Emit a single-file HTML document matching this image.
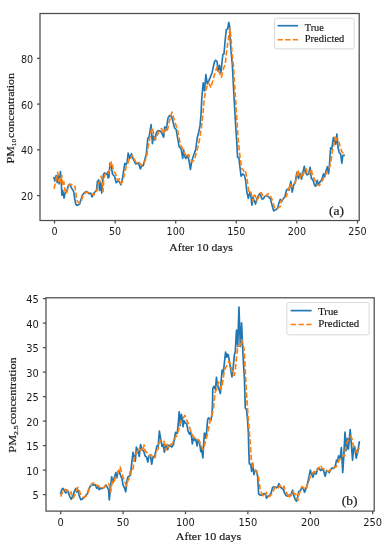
<!DOCTYPE html>
<html><head><meta charset="utf-8"><title>PM concentration: True vs Predicted</title>
<style>
html,body{margin:0;padding:0;background:#fff;}
svg{display:block}
.tk{font-family:"DejaVu Sans","Liberation Sans",sans-serif;fill:#1a1a1a}
.lb{font-family:"Liberation Serif","DejaVu Serif",serif;fill:#1a1a1a;stroke:#1a1a1a;stroke-width:0.18px}
.ab{font-family:"Liberation Serif","DejaVu Serif",serif;fill:#1a1a1a;stroke:#1a1a1a;stroke-width:0.2px}
</style></head><body>
<svg width="386" height="550" viewBox="0 0 386 550">
<rect width="386" height="550" fill="#fff"/>
<g id="top">
<path d="M53.92,177.67 L54.90,180.94 L56.13,175.63 L57.19,182.57 L58.17,175.63 L59.16,183.80 L60.46,171.54 L61.44,185.44 L61.85,195.25 L62.67,190.34 L64.06,198.11 L65.12,192.79 L66.35,191.98 L68.39,185.44 L69.62,184.21 L71.25,187.48 L73.71,191.57 L74.52,197.70 L75.75,204.24 L76.98,205.46 L79.63,203.95 L80.72,200.14 L82.36,195.23 L84.54,192.51 L86.72,191.42 L88.90,193.60 L90.53,193.05 L92.17,196.87 L94.35,192.51 L96.53,190.33 L97.40,181.61 L98.71,179.97 L99.58,190.33 L100.34,182.70 L101.76,193.05 L102.52,181.61 L103.61,173.98 L104.70,172.89 L106.56,174.52 L107.97,171.80 L108.00,177.89 L108.98,177.07 L110.04,163.17 L111.27,165.63 L112.50,174.21 L114.54,176.25 L116.17,182.79 L118.22,180.75 L119.44,181.98 L120.92,184.84 L122.31,179.52 L123.53,171.35 L124.76,163.58 L125.98,164.81 L127.21,161.54 L128.17,153.15 L129.80,158.60 L131.44,153.69 L133.07,158.60 L135.80,164.05 L138.52,162.96 L140.38,168.95 L141.79,165.14 L143.21,165.68 L145.06,158.60 L146.15,155.33 L147.24,144.43 L147.79,138.43 L149.10,136.80 L150.51,128.08 L151.09,124.62 L152.40,143.69 L153.49,136.06 L154.90,139.88 L156.54,132.25 L158.17,130.61 L160.35,131.16 L161.99,133.34 L163.62,137.15 L164.71,126.80 L165.80,130.61 L166.89,125.71 L167.98,118.08 L169.62,115.35 L171.80,116.99 L173.43,123.53 L174.52,127.89 L176.16,129.52 L177.79,138.79 L179.21,146.96 L181.06,148.60 L182.70,158.41 L183.63,149.88 L184.72,156.42 L185.81,158.60 L187.45,155.33 L189.08,160.78 L190.39,169.50 L191.81,160.78 L193.99,154.24 L195.62,149.88 L197.26,137.89 L198.89,131.35 L199.98,125.90 L201.00,115.00 L201.81,97.51 L203.23,82.79 L204.54,90.97 L205.85,74.62 L207.26,83.88 L208.90,80.61 L212.17,72.44 L214.35,62.08 L215.66,60.23 L217.07,61.54 L218.16,71.35 L219.47,65.35 L220.89,72.98 L221.99,62.14 L222.86,54.51 L223.95,53.96 L225.26,39.25 L226.35,29.44 L227.66,28.89 L228.75,22.35 L229.62,26.17 L230.16,39.25 L231.25,53.42 L232.35,65.00 L233.44,86.80 L235.62,124.95 L236.72,141.35 L237.59,157.15 L238.90,157.70 L239.99,167.51 L241.08,176.23 L242.71,174.05 L244.35,175.14 L245.70,180.73 L246.74,191.09 L248.29,198.34 L249.84,192.12 L250.88,196.27 L251.92,205.08 L252.95,197.31 L253.99,200.41 L255.54,204.04 L257.10,198.34 L258.65,195.23 L260.21,193.16 L261.76,198.86 L263.32,198.86 L264.87,196.27 L266.42,195.75 L267.98,196.27 L269.53,197.82 L270.57,199.38 L272.12,205.60 L273.68,210.78 L275.63,209.74 L277.70,208.19 L278.74,203.52 L280.29,199.38 L281.84,201.45 L283.40,198.34 L284.95,196.79 L286.51,190.05 L288.06,189.02 L289.10,190.05 L290.86,181.24 L292.21,192.12 L293.76,184.87 L295.32,181.76 L296.87,172.44 L298.42,178.65 L299.98,173.47 L301.53,179.17 L303.09,171.40 L304.33,166.22 L305.18,171.40 L306.96,174.95 L308.73,173.76 L310.15,167.26 L311.33,178.49 L312.87,179.68 L314.65,185.59 L315.83,186.18 L317.25,180.27 L318.19,184.41 L319.97,182.04 L321.74,179.68 L323.52,173.76 L324.70,176.72 L325.88,171.40 L327.42,166.67 L328.60,173.76 L329.43,165.48 L330.61,147.74 L331.80,148.92 L333.33,137.69 L334.52,141.83 L335.70,144.19 L336.88,134.14 L338.06,147.74 L339.25,152.47 L340.67,154.25 L341.85,163.12 L342.80,155.43 L344.22,155.43" fill="none" stroke="#1f77b4" stroke-width="1.65" stroke-linejoin="round" stroke-linecap="square"/>
<path d="M54.09,188.71 L55.31,182.98 L56.13,178.90 L57.77,172.36 L58.58,181.35 L59.65,177.26 L60.46,182.17 L61.85,175.63 L62.67,185.44 L63.90,181.76 L64.71,189.52 L65.94,194.02 L67.17,191.16 L68.39,186.25 L69.62,184.62 L71.66,184.21 L73.30,186.66 L74.93,186.25 L75.75,191.98 L76.57,199.33 L77.79,201.78 L79.63,203.41 L81.27,201.23 L82.90,195.78 L85.08,193.05 L87.26,191.96 L89.44,193.60 L91.62,193.60 L93.80,195.23 L95.44,191.96 L97.07,190.33 L98.16,183.79 L99.80,181.61 L100.89,177.25 L101.43,176.16 L102.20,182.70 L103.07,191.42 L103.61,181.61 L104.70,175.07 L106.88,172.34 L108.52,173.43 L109.63,168.90 L111.43,161.95 L112.50,165.63 L113.72,171.35 L115.77,174.21 L116.99,178.71 L118.22,180.34 L119.44,178.71 L121.08,183.61 L122.71,181.16 L123.94,176.25 L125.17,170.53 L126.39,166.44 L127.62,163.99 L129.25,158.27 L130.48,159.09 L131.98,155.33 L133.62,158.05 L136.34,162.96 L139.07,162.41 L141.25,165.14 L143.43,164.59 L145.06,160.78 L146.70,156.42 L148.01,147.70 L149.10,141.16 L150.51,134.62 L151.09,131.16 L152.40,127.89 L153.81,134.43 L155.45,139.88 L157.08,135.52 L159.26,131.16 L161.44,128.43 L163.62,133.88 L165.26,130.07 L166.35,127.89 L167.44,130.07 L169.07,122.44 L170.71,116.99 L171.80,112.08 L173.43,116.99 L175.07,122.44 L177.25,128.98 L178.88,136.61 L180.52,145.33 L182.15,147.51 L183.79,151.87 L185.42,154.59 L187.60,157.32 L188.69,154.59 L190.17,158.60 L192.35,161.87 L194.53,159.69 L196.17,153.15 L198.35,145.52 L199.98,136.80 L201.62,125.90 L202.90,114.95 L203.99,100.78 L205.63,90.97 L207.26,85.52 L208.90,83.34 L210.86,87.70 L213.26,78.98 L215.44,71.35 L217.07,66.99 L219.25,72.44 L221.43,77.34 L223.61,68.08 L225.26,64.32 L226.35,53.42 L227.98,41.43 L229.07,33.80 L229.95,28.35 L230.93,37.07 L231.80,50.15 L232.89,61.05 L233.44,65.00 L235.08,92.25 L237.26,124.95 L238.35,141.35 L239.99,156.61 L241.62,168.60 L243.26,169.69 L244.35,172.96 L245.66,171.87 L246.74,177.62 L247.77,184.87 L248.81,191.09 L249.84,193.16 L250.88,192.12 L251.92,196.27 L252.95,201.45 L253.47,196.27 L255.03,195.23 L256.58,200.41 L258.13,198.34 L259.69,194.20 L261.24,192.64 L262.80,195.75 L264.87,196.79 L266.42,195.23 L268.50,193.68 L270.05,195.75 L271.61,198.34 L273.16,203.52 L274.72,207.67 L276.66,209.22 L278.74,207.67 L280.29,206.63 L281.33,200.41 L282.88,199.38 L284.95,197.31 L286.51,196.27 L287.54,191.09 L289.10,187.98 L290.13,183.83 L291.69,186.94 L293.24,184.87 L295.32,182.80 L296.87,175.54 L297.91,169.84 L299.15,175.54 L300.50,177.62 L302.05,172.44 L303.09,175.54 L304.64,169.33 L306.20,168.81 L307.55,173.76 L309.32,174.35 L311.33,169.03 L312.52,176.13 L314.05,178.49 L315.83,182.04 L317.60,185.00 L319.38,185.59 L321.15,182.04 L322.92,179.68 L324.70,174.95 L326.47,173.76 L328.25,169.03 L329.78,166.67 L331.20,159.57 L332.39,151.29 L333.81,145.38 L334.99,137.10 L335.94,141.83 L337.35,137.69 L338.54,140.65 L340.08,146.56 L341.61,151.29 L343.03,153.06 L344.45,156.02" fill="none" stroke="#ff7f0e" stroke-width="1.65" stroke-linejoin="round" stroke-dasharray="5.30,2.30"/>
<rect x="40.0" y="13.5" width="319.20" height="207.00" fill="none" stroke="#4d4d4d" stroke-width="1.25"/>
<line x1="54.5" y1="220.5" x2="54.5" y2="223.50" stroke="#4d4d4d" stroke-width="1.25"/>
<text x="54.5" y="235.2" text-anchor="middle" class="tk" font-size="9.60">0</text>
<line x1="115.1" y1="220.5" x2="115.1" y2="223.50" stroke="#4d4d4d" stroke-width="1.25"/>
<text x="115.1" y="235.2" text-anchor="middle" class="tk" font-size="9.60">50</text>
<line x1="175.7" y1="220.5" x2="175.7" y2="223.50" stroke="#4d4d4d" stroke-width="1.25"/>
<text x="175.7" y="235.2" text-anchor="middle" class="tk" font-size="9.60">100</text>
<line x1="236.3" y1="220.5" x2="236.3" y2="223.50" stroke="#4d4d4d" stroke-width="1.25"/>
<text x="236.3" y="235.2" text-anchor="middle" class="tk" font-size="9.60">150</text>
<line x1="296.9" y1="220.5" x2="296.9" y2="223.50" stroke="#4d4d4d" stroke-width="1.25"/>
<text x="296.9" y="235.2" text-anchor="middle" class="tk" font-size="9.60">200</text>
<line x1="357.5" y1="220.5" x2="357.5" y2="223.50" stroke="#4d4d4d" stroke-width="1.25"/>
<text x="357.5" y="235.2" text-anchor="middle" class="tk" font-size="9.60">250</text>
<line x1="37.00" y1="195.6" x2="40.0" y2="195.6" stroke="#4d4d4d" stroke-width="1.25"/>
<text x="33.2" y="200.00" text-anchor="end" class="tk" font-size="9.60">20</text>
<line x1="37.00" y1="149.86" x2="40.0" y2="149.86" stroke="#4d4d4d" stroke-width="1.25"/>
<text x="33.2" y="154.26" text-anchor="end" class="tk" font-size="9.60">40</text>
<line x1="37.00" y1="104.12" x2="40.0" y2="104.12" stroke="#4d4d4d" stroke-width="1.25"/>
<text x="33.2" y="108.52" text-anchor="end" class="tk" font-size="9.60">60</text>
<line x1="37.00" y1="58.38" x2="40.0" y2="58.38" stroke="#4d4d4d" stroke-width="1.25"/>
<text x="33.2" y="62.78" text-anchor="end" class="tk" font-size="9.60">80</text>
<text x="201.1" y="250.5" text-anchor="middle" class="lb" font-size="10.90" textLength="63.5" lengthAdjust="spacingAndGlyphs">After 10 days</text>
<text transform="translate(13.6,118.2) rotate(-90)" text-anchor="middle" class="lb" font-size="10.90" textLength="90.5" lengthAdjust="spacingAndGlyphs">PM<tspan font-size="6.76" dy="2.40">10</tspan><tspan dy="-2.40" dx="0.8">concentration</tspan></text>
<rect x="274.6" y="18.2" width="79.60" height="30.70" rx="2" ry="2" fill="#fff" fill-opacity="0.8" stroke="#d8d8d8" stroke-width="1"/>
<line x1="277.6" y1="25.7" x2="298.1" y2="25.7" stroke="#1f77b4" stroke-width="1.65"/>
<line x1="277.6" y1="39.7" x2="298.1" y2="39.7" stroke="#ff7f0e" stroke-width="1.65" stroke-dasharray="5.30,2.30"/>
<text x="304.8" y="30.7" class="lb" font-size="10.40" textLength="19" lengthAdjust="spacingAndGlyphs">True</text>
<text x="304.8" y="42.3" class="lb" font-size="10.40" textLength="39.5" lengthAdjust="spacingAndGlyphs">Predicted</text>
<text x="329.0" y="215.3" class="ab" font-size="13.50">(a)</text>
</g>
<g id="bottom">
<path d="M60.66,493.50 L61.70,489.87 L63.05,488.32 L64.81,491.42 L65.84,492.98 L66.88,489.87 L68.44,492.98 L69.99,497.12 L71.34,499.20 L73.10,495.05 L74.65,490.91 L75.90,488.32 L76.73,491.94 L77.76,489.87 L79.32,496.09 L80.87,499.72 L82.94,498.68 L85.02,496.61 L87.09,494.02 L88.64,489.87 L90.20,486.24 L91.75,484.69 L93.55,485.05 L95.11,484.53 L96.66,488.16 L97.70,487.12 L99.25,489.72 L100.81,488.16 L102.36,488.68 L104.44,487.12 L105.99,485.05 L107.54,487.64 L108.58,489.72 L109.31,499.87 L110.65,486.09 L111.69,476.76 L112.73,482.98 L114.28,477.80 L115.83,472.62 L116.87,477.80 L117.91,471.58 L119.15,471.06 L120.50,475.21 L122.05,478.83 L123.09,485.05 L124.64,488.16 L125.68,491.79 L126.72,482.98 L127.75,477.28 L129.31,476.24 L130.55,474.69 L131.70,463.16 L133.05,452.28 L134.29,456.94 L135.33,461.09 L136.36,447.10 L137.92,450.73 L139.26,456.42 L140.51,444.51 L142.06,449.69 L143.62,450.73 L145.17,455.91 L146.73,457.46 L147.76,462.12 L149.01,455.91 L150.35,454.87 L151.70,464.20 L152.94,456.94 L154.50,456.42 L155.53,452.80 L156.88,446.06 L158.12,446.58 L159.37,431.04 L161.04,441.27 L162.07,446.45 L163.11,444.38 L164.35,452.15 L165.70,445.41 L166.74,446.45 L167.77,449.56 L168.81,445.41 L170.36,445.93 L171.92,446.97 L173.47,444.38 L174.51,438.16 L175.54,432.46 L177.10,433.50 L178.13,425.73 L179.17,411.74 L180.21,425.73 L181.24,414.33 L182.28,418.47 L183.01,426.76 L184.04,420.54 L185.39,423.13 L186.74,423.65 L187.98,430.91 L189.53,434.02 L190.57,431.94 L191.61,437.12 L192.33,443.86 L193.37,438.16 L194.72,440.23 L195.75,439.20 L197.10,445.93 L198.13,440.23 L199.25,440.75 L200.81,451.63 L201.53,448.52 L202.88,457.85 L203.61,444.38 L204.44,432.98 L205.68,438.16 L206.72,430.91 L207.54,420.54 L208.37,417.95 L209.62,418.47 L210.86,420.54 L211.90,415.36 L212.50,405.00 L212.81,388.34 L213.84,386.27 L215.40,389.38 L216.44,377.46 L217.47,385.23 L219.03,389.38 L220.37,393.52 L221.10,381.09 L222.13,370.21 L223.17,373.83 L224.21,364.51 L225.55,352.07 L226.59,357.25 L227.32,354.15 L228.35,355.18 L229.39,361.40 L230.74,369.69 L231.98,376.94 L233.29,366.45 L234.33,355.05 L235.36,350.91 L236.19,335.36 L236.61,330.18 L237.75,346.50 L238.95,307.20 L240.35,346.50 L241.60,322.90 L242.10,335.36 L242.82,350.91 L243.65,366.45 L244.48,380.03 L245.26,408.05 L246.51,409.61 L247.54,419.45 L248.37,433.03 L248.81,450.73 L249.33,463.68 L250.88,464.72 L251.61,471.45 L252.64,463.16 L253.99,474.56 L255.03,470.41 L256.58,470.93 L257.63,476.40 L258.66,494.02 L260.22,495.05 L262.29,495.05 L264.36,493.50 L265.40,494.02 L266.64,498.16 L267.99,496.09 L269.54,495.57 L271.10,492.98 L272.65,487.28 L274.73,486.76 L276.28,487.80 L277.83,486.76 L278.87,483.65 L280.42,487.28 L281.98,488.32 L283.53,489.87 L284.57,492.98 L286.12,495.57 L287.68,496.09 L289.23,495.05 L290.79,495.57 L291.11,494.38 L292.66,490.23 L293.70,495.41 L295.25,499.56 L296.50,501.11 L297.84,496.45 L298.88,491.27 L300.44,490.75 L301.99,487.12 L303.54,489.20 L304.58,492.31 L306.13,488.16 L307.69,482.98 L309.24,475.73 L310.28,470.03 L311.32,473.65 L312.87,477.28 L313.91,473.65 L315.15,472.10 L316.19,474.17 L317.53,468.47 L319.09,467.95 L320.64,470.54 L322.20,468.99 L323.75,471.06 L325.11,476.19 L326.66,470.49 L328.22,471.52 L329.25,472.56 L330.81,469.45 L332.36,467.90 L333.92,468.41 L335.47,465.31 L336.51,460.12 L337.54,461.16 L338.58,455.98 L340.13,458.05 L341.38,447.69 L342.73,472.56 L343.76,457.02 L345.01,432.15 L346.35,450.28 L347.39,438.36 L348.42,449.24 L349.46,437.33 L350.19,429.55 L351.53,446.65 L352.57,460.12 L353.61,447.69 L354.64,446.65 L356.20,458.05 L357.75,451.83 L359.31,441.99" fill="none" stroke="#1f77b4" stroke-width="1.70" stroke-linejoin="round" stroke-linecap="square"/>
<path d="M60.66,496.61 L62.22,492.98 L63.77,489.87 L65.33,489.35 L66.36,490.91 L67.92,490.39 L69.47,492.98 L71.03,491.94 L71.54,496.09 L73.10,498.16 L74.65,495.57 L76.21,490.91 L77.97,487.28 L79.32,490.91 L80.87,495.05 L82.42,497.12 L83.98,497.64 L86.05,496.09 L87.61,494.53 L89.16,488.83 L90.72,486.76 L92.00,483.50 L93.55,482.98 L95.11,483.50 L96.66,485.05 L98.22,485.57 L99.77,487.12 L101.84,488.68 L103.92,487.64 L105.47,485.57 L107.03,484.53 L108.58,483.50 L109.62,486.09 L110.65,492.31 L111.48,486.09 L112.73,479.87 L114.28,480.91 L115.32,477.28 L116.87,475.73 L118.42,471.58 L120.19,466.92 L121.53,472.62 L123.09,477.28 L124.64,480.91 L125.68,484.02 L126.72,486.09 L127.75,480.91 L129.31,478.32 L130.15,471.45 L131.70,471.45 L133.25,468.34 L134.08,459.02 L135.33,454.35 L136.88,453.32 L138.44,448.13 L139.99,450.21 L141.54,449.17 L142.58,450.73 L144.13,445.03 L145.17,451.24 L146.73,452.28 L148.28,454.87 L149.83,456.42 L151.39,454.87 L152.94,457.98 L155.02,457.46 L156.57,450.73 L158.12,448.65 L159.16,442.44 L160.72,440.36 L162.79,439.84 L164.35,442.31 L165.70,450.60 L167.05,444.38 L168.29,447.49 L169.33,444.38 L170.88,444.90 L172.44,443.34 L173.99,441.27 L175.54,437.12 L177.10,435.05 L178.65,429.87 L180.21,422.62 L181.76,419.51 L183.32,417.95 L184.87,415.36 L186.42,419.51 L187.98,422.62 L189.53,427.28 L191.09,431.94 L192.64,435.57 L194.20,437.64 L195.75,438.16 L197.31,438.68 L198.74,440.23 L200.29,443.34 L201.84,447.49 L203.40,449.56 L204.44,445.41 L205.99,439.20 L207.54,434.02 L209.10,425.73 L210.45,419.51 L211.69,415.36 L212.73,412.25 L213.84,405.03 L214.36,398.70 L215.40,391.45 L216.95,388.34 L218.51,382.12 L220.06,386.27 L221.10,389.38 L222.13,385.23 L223.17,379.02 L224.21,370.73 L225.76,367.62 L227.32,364.51 L228.87,361.40 L230.42,363.47 L231.46,369.69 L233.02,374.87 L234.26,375.39 L235.36,368.52 L236.61,356.09 L237.95,345.73 L239.51,346.24 L240.54,344.17 L241.58,339.51 L242.62,344.69 L243.86,347.28 L244.48,356.09 L245.21,368.52 L245.73,380.03 L246.51,393.54 L247.54,409.09 L248.58,421.52 L249.41,433.03 L250.36,445.54 L251.40,461.09 L252.44,465.23 L253.47,468.34 L255.03,470.41 L256.58,471.45 L258.15,475.36 L259.18,481.58 L260.22,489.87 L261.77,493.50 L263.33,496.09 L264.88,496.61 L266.44,492.46 L267.47,496.09 L269.03,496.61 L270.58,495.57 L272.13,493.50 L273.69,489.87 L275.24,486.76 L276.80,487.28 L278.35,487.80 L279.91,485.21 L281.46,487.28 L283.02,487.80 L284.05,486.24 L285.09,490.39 L286.64,492.98 L288.20,496.09 L289.23,498.16 L289.55,495.93 L291.11,495.41 L292.66,491.27 L294.22,493.34 L295.77,494.38 L297.84,500.60 L298.88,494.38 L300.44,490.23 L301.99,486.61 L304.06,488.16 L306.13,489.20 L307.69,484.02 L309.24,479.87 L310.80,474.69 L312.87,472.62 L314.42,471.58 L315.98,473.13 L317.53,470.03 L319.09,467.44 L320.64,465.36 L322.20,468.47 L323.75,468.99 L325.11,468.93 L326.66,470.49 L328.22,471.52 L330.29,469.97 L332.36,468.41 L334.44,467.38 L335.99,466.86 L337.54,464.27 L339.10,460.12 L340.65,458.05 L342.21,457.02 L343.76,454.94 L344.80,455.98 L345.83,446.65 L347.39,441.47 L348.94,439.40 L350.50,436.29 L352.05,438.88 L353.09,444.58 L354.12,448.73 L355.68,449.76 L357.23,452.87 L358.27,449.76 L359.31,447.69" fill="none" stroke="#ff7f0e" stroke-width="1.70" stroke-linejoin="round" stroke-dasharray="5.45,2.36"/>
<rect x="46.0" y="297.8" width="328.20" height="213.30" fill="none" stroke="#4d4d4d" stroke-width="1.25"/>
<line x1="60.7" y1="511.1" x2="60.7" y2="514.18" stroke="#4d4d4d" stroke-width="1.25"/>
<text x="60.7" y="526.0" text-anchor="middle" class="tk" font-size="9.87">0</text>
<line x1="123.1" y1="511.1" x2="123.1" y2="514.18" stroke="#4d4d4d" stroke-width="1.25"/>
<text x="123.1" y="526.0" text-anchor="middle" class="tk" font-size="9.87">50</text>
<line x1="185.5" y1="511.1" x2="185.5" y2="514.18" stroke="#4d4d4d" stroke-width="1.25"/>
<text x="185.5" y="526.0" text-anchor="middle" class="tk" font-size="9.87">100</text>
<line x1="247.9" y1="511.1" x2="247.9" y2="514.18" stroke="#4d4d4d" stroke-width="1.25"/>
<text x="247.9" y="526.0" text-anchor="middle" class="tk" font-size="9.87">150</text>
<line x1="310.3" y1="511.1" x2="310.3" y2="514.18" stroke="#4d4d4d" stroke-width="1.25"/>
<text x="310.3" y="526.0" text-anchor="middle" class="tk" font-size="9.87">200</text>
<line x1="372.7" y1="511.1" x2="372.7" y2="514.18" stroke="#4d4d4d" stroke-width="1.25"/>
<text x="372.7" y="526.0" text-anchor="middle" class="tk" font-size="9.87">250</text>
<line x1="42.92" y1="494.6" x2="46.0" y2="494.6" stroke="#4d4d4d" stroke-width="1.25"/>
<text x="38.9" y="499.10" text-anchor="end" class="tk" font-size="9.87">5</text>
<line x1="42.92" y1="470.1" x2="46.0" y2="470.1" stroke="#4d4d4d" stroke-width="1.25"/>
<text x="38.9" y="474.60" text-anchor="end" class="tk" font-size="9.87">10</text>
<line x1="42.92" y1="445.6" x2="46.0" y2="445.6" stroke="#4d4d4d" stroke-width="1.25"/>
<text x="38.9" y="450.10" text-anchor="end" class="tk" font-size="9.87">15</text>
<line x1="42.92" y1="421.1" x2="46.0" y2="421.1" stroke="#4d4d4d" stroke-width="1.25"/>
<text x="38.9" y="425.60" text-anchor="end" class="tk" font-size="9.87">20</text>
<line x1="42.92" y1="396.6" x2="46.0" y2="396.6" stroke="#4d4d4d" stroke-width="1.25"/>
<text x="38.9" y="401.10" text-anchor="end" class="tk" font-size="9.87">25</text>
<line x1="42.92" y1="372.1" x2="46.0" y2="372.1" stroke="#4d4d4d" stroke-width="1.25"/>
<text x="38.9" y="376.60" text-anchor="end" class="tk" font-size="9.87">30</text>
<line x1="42.92" y1="347.6" x2="46.0" y2="347.6" stroke="#4d4d4d" stroke-width="1.25"/>
<text x="38.9" y="352.10" text-anchor="end" class="tk" font-size="9.87">35</text>
<line x1="42.92" y1="323.1" x2="46.0" y2="323.1" stroke="#4d4d4d" stroke-width="1.25"/>
<text x="38.9" y="327.60" text-anchor="end" class="tk" font-size="9.87">40</text>
<line x1="42.92" y1="298.6" x2="46.0" y2="298.6" stroke="#4d4d4d" stroke-width="1.25"/>
<text x="38.9" y="303.10" text-anchor="end" class="tk" font-size="9.87">45</text>
<text x="208.5" y="539.9" text-anchor="middle" class="lb" font-size="11.21" textLength="65.5" lengthAdjust="spacingAndGlyphs">After 10 days</text>
<text transform="translate(16.0,405.0) rotate(-90)" text-anchor="middle" class="lb" font-size="11.21" textLength="95.5" lengthAdjust="spacingAndGlyphs">PM<tspan font-size="6.95" dy="2.47">2.5</tspan><tspan dy="-2.47" dx="0.8">concentration</tspan></text>
<rect x="286.8" y="302.6" width="82.30" height="32.20" rx="2" ry="2" fill="#fff" fill-opacity="0.8" stroke="#d8d8d8" stroke-width="1"/>
<line x1="290.6" y1="310.6" x2="311.6" y2="310.6" stroke="#1f77b4" stroke-width="1.70"/>
<line x1="290.6" y1="324.5" x2="311.6" y2="324.5" stroke="#ff7f0e" stroke-width="1.70" stroke-dasharray="5.45,2.36"/>
<text x="318.2" y="315.4" class="lb" font-size="10.69" textLength="19.8" lengthAdjust="spacingAndGlyphs">True</text>
<text x="318.2" y="327.1" class="lb" font-size="10.69" textLength="41" lengthAdjust="spacingAndGlyphs">Predicted</text>
<text x="341.8" y="504.6" class="ab" font-size="13.50">(b)</text>
</g>
</svg>
</body></html>
